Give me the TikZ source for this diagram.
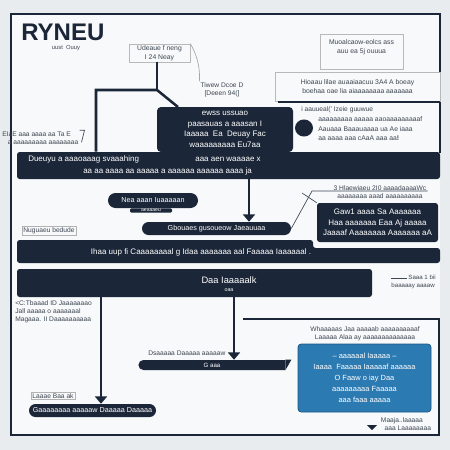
\documentclass[tikz,border=0pt]{standalone}
\usepackage{fontspec}
\setmainfont{Liberation Sans}
\usetikzlibrary{arrows.meta,shapes.misc}

\definecolor{navy}{RGB}{27,38,56}
\definecolor{paper}{RGB}{247,249,250}
\definecolor{haze}{RGB}{232,236,239}
\definecolor{inkgray}{RGB}{62,70,82}
\definecolor{ribbon}{RGB}{44,122,178}
\definecolor{ribbonedge}{RGB}{28,88,132}

\tikzset{
  darkbox/.style={fill=navy, text=white, rounded corners=3pt, inner sep=0.75pt, align=center, font=\fontsize{6}{8}\selectfont},
  darkpill/.style={rounded rectangle, fill=navy, text=white, inner sep=0.75pt, font=\fontsize{5.4}{6}\selectfont},
  bartext/.style={inner sep=0.75pt, text=white, font=\fontsize{6}{7}\selectfont},
  callout/.style={draw=gray!55, line width=0.4pt, fill=paper, inner sep=1.2pt, align=center, text=inkgray, font=\fontsize{5.1}{6.4}\selectfont},
  note/.style={inner sep=0.75pt, align=center, text=inkgray, font=\fontsize{5}{6.3}\selectfont},
  link/.style={draw=navy, line width=1.9pt},
  flow/.style={draw=navy, line width=1.9pt, -{Triangle[width=9pt,length=5.5pt]}},
  leader/.style={draw=navy!85, line width=0.5pt},
}

\begin{document}
\begin{tikzpicture}[x=0.75pt,y=0.75pt,yscale=-1,xscale=1]
    %Shape: Rectangle [background]
    \fill[haze] (0,0) rectangle (450,450);
    \useasboundingbox (0,0) rectangle (450,450);
    \fill[paper] (11,14) rectangle (440,435);
    %Shape: Frame
    \draw[navy, line width=1.5pt] (440,153) -- (440,14) -- (11,14) -- (11,435) -- (439,435) -- (439,319) -- (243,319);

    % Text Node
    \node[anchor=base west, inner sep=0pt, text=navy, font=\bfseries\fontsize{18}{20}\selectfont] (title) at (21,40) {RYNEU};
    % Text Node
    \node[note, font=\fontsize{4.4}{5}\selectfont] (subtitle) at (66,48) {uust \ Ouuy};

    %Shape: Callouts
    \node[callout, minimum width=45.75pt, minimum height=11.25pt] (callA) at (159.5,53) {Udeaue f neng\\ I 24 Neay};
    \node[callout, minimum width=123.75pt, minimum height=21.75pt] (callC) at (357.5,86.5) {Hioaau lilae auaaiaacuu 3A4 A boeay\\ boehaa oae lia aiaaaaaaaa aaaaaaa};
    \node[callout, minimum width=62.25pt, minimum height=26.25pt] (callB) at (361.5,52) {Muoalcaow-eolcs ass\\ auu ea 5j ouuua\\[2pt]};
    % Text Node
    \node[note] (lblDcoen) at (222,90) {Tiwew Dcoe D\\ {[}Deeen 94(]};

    %Shape: Panel
    \draw[navy, line width=1.5pt] (278,102) -- (440,102);
    \fill[navy] (304,128) ellipse [x radius=6.75pt, y radius=6.4pt];
    % Text Node
    \node[note, anchor=west] (panelHead) at (300,110) {i aauueal(' Izeie guuwue};
    % Text Node
    \node[note, anchor=north west, align=left, font=\fontsize{5.1}{7.4}\selectfont] (panelBody) at (317,115) {aaaaaaaaa aaaaa aaoaaaaaaaaaf\\ Aauaaa Baaauaaaa ua Ae iaaa\\ aa aaaa aaa cAaA aaa aa\textbf{!}};

    %Shape: Bars and boxes
    \node[darkbox, minimum width=317.25pt, minimum height=20.25pt, rounded corners=2pt] (bar1) at (228.5,165.5) {};
    \node[darkbox, minimum width=102pt, minimum height=33.75pt] (core) at (225,129.5) {ewss ussuao\\ paasauas a aaasan I\\ Iaaaaa \ Ea \ Deuay Fac\\ waaaaaaaaa Eu7aa};
    \node[bartext, anchor=west] (bar1a) at (27,159) {Dueuyu a aaaoaaag svaaahing};
    \node[bartext] (bar1b) at (228,159) {aaa aen waaaae x};
    \node[bartext, anchor=west] (bar1c) at (82,171) {aa aa aaaa aa aaaaa a aaaaaa aaaaaa aaaa ja};

    % Text Node
    \node[note, anchor=west, align=left] (lblLeft1) at (1,138) {EIaE aaa aaaa aa Ta E\\ \ \ \ a aaaaaaaaa aaaaaaaa};
    \draw[leader] (lblLeft1.north east) -- ++(5,0) -- ++(-3,12);

    \node[fill=navy, text=white, inner sep=0.6pt, rounded corners=1pt, minimum width=31.5pt, font=\fontsize{3.8}{4}\selectfont] (pill1tag) at (151,210.5) {aeaaaeu};
    \node[darkpill, minimum width=69pt, minimum height=11.25pt] (pill1) at (153,200.5) {Nea aaan Iuaaaaan};
    \node[darkpill, minimum width=113.25pt, minimum height=9.75pt] (pill2) at (216.5,228.5) {Gbouaes gusoueow Jaeauuaa};
    % Text Node
    \node[note, draw=gray!60, line width=0.3pt, inner sep=0.9pt] (lblNug) at (49,231) {Nuguaeu bedude};

    \node[darkbox, minimum width=90.75pt, minimum height=29.25pt, rounded corners=2pt] (rbox) at (377.5,222.5) {Gaw1 aaaa Sa Aaaaaaa\\ Haa aaaaaaa Eaa Aj aaaaa\\ Jaaaaf Aaaaaaaa Aaaaaaa aA};
    % Text Node
    \node[note] (lblR) at (380,192) {3 Hlaewiaeu 2I0 aaaadaaaaWc\\ aaaaaaaa aaad aaaaaaaaaa};

    \fill[navy, rounded corners=2pt] (17,240) -- (313,240) -- (313,248) -- (440,248) -- (440,263) -- (17,263) -- cycle;
    \node[bartext] (bar2) at (201,252.5) {Ihaa uup fi Caaaaaaaal g Idaa aaaaaaa aal Faaaaa Iaaaaaal .};

    \node[darkbox, minimum width=266.25pt, minimum height=21pt, rounded corners=2pt] (bar3) at (194.5,283) {};
    \node[bartext, font=\fontsize{7}{8}\selectfont] (bar3a) at (229,280) {Daa Iaaaaalk};
    \node[bartext, font=\fontsize{4}{5}\selectfont] (bar3b) at (229,290) {oaa};

    % Text Node
    \node[note, anchor=north east, align=left, font=\fontsize{4.6}{5.6}\selectfont] (lblBit) at (437,274) {\rule[0.4ex]{12pt}{0.4pt}\,Saaa 1 bii\\ baaaaay aaaaw};
    % Text Node
    \node[note, anchor=north west, align=left] (lblLeft2) at (14,299) {<C:Tbaaad ID Jaaaaaaao\\ Jall aaaaa o aaaaaaal\\ Magaaa. II Daaaaaaaaaa};

    % Text Node
    \node[note, anchor=west] (lblD) at (147,353) {Dsaaaaa Daaaaa aaaaaw};
    \node[rounded rectangle, rounded rectangle east arc=none, fill=navy, text=white, inner sep=0.5pt, minimum width=111pt, minimum height=7.5pt, font=\fontsize{4.6}{5}\selectfont] (pill4) at (212,365) {G aaa};
    \fill[navy] (pill4.north east) -- ++(6,0) -- (pill4.south east) -- cycle;

    % Text Node
    \node[note, draw=gray!60, line width=0.3pt, inner sep=0.9pt] (lblBuu) at (53,396) {Laaae Baa ak};
    \node[darkpill, minimum width=96.75pt, minimum height=9.75pt] (pill3) at (92.5,410.5) {Gaaaaaaaa aaaaaw Daaaaa Daaaaa};

    % Text Node
    \node[note] (lblBlue) at (365,334) {Whaaaaas Jaa aaaaab aaaaaaaaaaf\\ Laaaaa Alaa ay aaaaaaaaaaaaaa};
    \node[fill=ribbon, draw=ribbonedge, line width=0.6pt, rounded corners=2.5pt, minimum width=99.75pt, minimum height=51pt, inner sep=0.75pt, text=white, align=center, font=\fontsize{5.6}{8.2}\selectfont] (blue) at (364.5,378) {-- aaaaaal Iaaaaa --\\ Iaaaa \ Faaaaa Iaaaaaf aaaaaa\\ O Faaw o iay Daa\\ aaaaaaaaa Faaaaa\\ aaa faaa aaaaa};

    % Text Node
    \node[note, align=left] (lblBottom) at (406,424) {Maaja..laaaaa\\ \ \ aaa Laaaaaaaa};
    \fill[navy] (367,425) -- (377,425) -- (372,430) -- cycle;

    %Straight Lines
    \coordinate (jA) at (96,90);
    \coordinate (jB) at (157,90);
    \coordinate (jC) at (178,107);
    \draw[link] (callA.south -| jB) -- (jB);
    \draw[link] (bar1.north -| jA) -- (jA) -- (jB) -- (jC);
    \draw[leader, gray!70] (callA.north east) .. controls (199,58) and (200,72) .. (lblDcoen.north west);
    %Straight Lines
    \coordinate (aTop) at (249,179);
    \draw[flow] (bar1.south -| aTop) -- (pill2.north -| aTop);
    \coordinate (kR) at (312,191);
    \draw[leader] (pill2.east) -- (kR) -- (kR -| lblR.east);
    \coordinate (kR2) at (302,193);
    \draw[leader] (kR2) -- (rbox.north west);
    %Straight Lines
    \coordinate (aLeft) at (101,297);
    \coordinate (aMid) at (234,297);
    \draw[flow] (bar3.south -| aLeft) -- (pill3.north -| aLeft);
    \draw[flow] (bar3.south -| aMid) -- (pill4.north -| aMid);

\end{tikzpicture}
\end{document}
